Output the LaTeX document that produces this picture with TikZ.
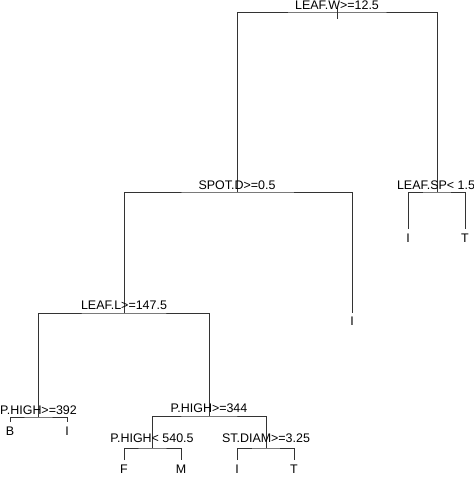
\documentclass[tikz,border=0pt]{standalone}
\usepackage{fontspec}
\setmainfont{Liberation Sans}
\begin{document}
\begin{tikzpicture}[x=1bp,y=-1bp,
  edge/.style={draw=black!80,line width=0.7pt},
  lbl/.style={inner sep=0pt,outer sep=0pt,font=\fontsize{12.5}{14}\selectfont},
]
\useasboundingbox (0,0) rectangle (474,479);
% split points (centre of each bar)
\coordinate (root) at (337,12);
\coordinate (spot) at (237,192);
\coordinate (lsp)  at (437,192);
\coordinate (leafl) at (124,313);
\coordinate (ph392) at (38,417);
\coordinate (ph344) at (209,416);
\coordinate (ph540) at (152,448);
\coordinate (stdiam) at (266,448);
% leaf ends
\coordinate (lI1) at (352,313);
\coordinate (lI2) at (408,229);
\coordinate (lT2) at (465,229);
\coordinate (lB) at (10,422);
\coordinate (lI3) at (67,422);
\coordinate (lF) at (124,460);
\coordinate (lM) at (181,460);
\coordinate (lI4) at (237,460);
\coordinate (lT4) at (294,460);
\coordinate (rtop) at (337,8);
\coordinate (rbot) at (337,19);
% edges
\draw[edge] (rtop) -- (rbot);
\draw[edge] (spot) |- (root) -| (lsp);
\draw[edge] (leafl) |- (spot) -| (lI1);
\draw[edge] (lI2) |- (lsp) -| (lT2);
\draw[edge] (ph392) |- (leafl) -| (ph344);
\draw[edge] (lB) |- (ph392) -| (lI3);
\draw[edge] (ph540) |- (ph344) -| (stdiam);
\draw[edge] (lF) |- (ph540) -| (lM);
\draw[edge] (lI4) |- (stdiam) -| (lT4);
% split labels
\node[lbl] (troot) at (337,4.8) {LEAF.W>=12.5};
\node[lbl] (tspot) at (237,185) {SPOT.D>=0.5};
\node[lbl] (tlsp) at (436,185) {LEAF.SP< 1.5};
\node[lbl] (tleafl) at (124,305) {LEAF.L>=147.5};
\node[lbl] (tph392) at (38.5,410) {P.HIGH>=392};
\node[lbl] (tph344) at (209,408) {P.HIGH>=344};
\node[lbl] (tph540) at (152,438) {P.HIGH< 540.5};
\node[lbl] (tstdiam) at (266,438) {ST.DIAM>=3.25};
% leaf labels
\node[lbl] (nI1) at (352,321) {I};
\node[lbl] (nI2) at (408,238) {I};
\node[lbl] (nT2) at (465,238) {T};
\node[lbl] (nB) at (10,431) {B};
\node[lbl] (nI3) at (67,431) {I};
\node[lbl] (nF) at (124,469) {F};
\node[lbl] (nM) at (181,469) {M};
\node[lbl] (nI4) at (237,469) {I};
\node[lbl] (nT4) at (294,469) {T};
\end{tikzpicture}
\end{document}
